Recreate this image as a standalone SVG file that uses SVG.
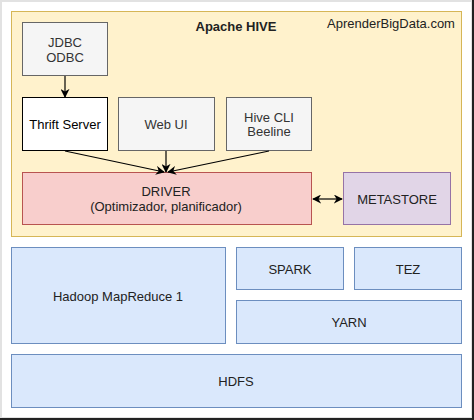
<svg xmlns="http://www.w3.org/2000/svg" width="474" height="420" viewBox="0 0 474 420">
<defs>
<style>
text{font-family:"Liberation Sans",Arial,sans-serif;font-size:13px;fill:#222;text-anchor:middle;dominant-baseline:central}
.grey{fill:#f5f5f5;stroke:#666;stroke-width:1}
.blue{fill:#dae8fc;stroke:#6c8ebf;stroke-width:1}
.gt{fill:#333}
.edge{stroke:#000;stroke-width:1.2;fill:none}
</style>
<marker id="ah" viewBox="0 0 10 10" refX="9" refY="5" markerWidth="9" markerHeight="9" orient="auto-start-reverse" markerUnits="userSpaceOnUse">
<path d="M0,0 L10,5 L0,10 L3,5 z" fill="#000"/>
</marker>
</defs>
<rect x="0" y="0" width="474" height="420" fill="#fff"/>
<rect x="1" y="1" width="471" height="417" fill="none" stroke="#e2e2e2" stroke-width="2"/>
<line x1="473" y1="0" x2="473" y2="420" stroke="#222" stroke-width="2"/>
<line x1="0" y1="419" x2="474" y2="419" stroke="#222" stroke-width="2"/>

<g id="hive">
<rect x="11.5" y="11.5" width="450" height="225" fill="#fff2cc" stroke="#d6b656"/>
<text x="236" y="26" style="font-weight:bold">Apache HIVE</text>
<text x="391" y="23">AprenderBigData.com</text>
</g>
<g id="jdbc">
<rect class="grey" x="22.5" y="22.5" width="85" height="53"/>
<text class="gt" x="65" y="42">JDBC</text>
<text class="gt" x="65" y="57">ODBC</text>
</g>
<g id="thrift">
<rect x="22.5" y="97.5" width="85" height="53" fill="#fff" stroke="#000"/>
<text x="65" y="124" style="fill:#000">Thrift Server</text>
</g>
<g id="webui">
<rect class="grey" x="118.5" y="97.5" width="96" height="53"/>
<text class="gt" x="166" y="124">Web UI</text>
</g>
<g id="hivecli">
<rect class="grey" x="226.5" y="97.5" width="85" height="53"/>
<text class="gt" x="269" y="117">Hive CLI</text>
<text class="gt" x="269" y="131">Beeline</text>
</g>
<g id="driver">
<rect x="22.5" y="172.5" width="289" height="52" fill="#f8cecc" stroke="#b85450"/>
<text x="166" y="191">DRIVER</text>
<text x="166" y="206">(Optimizador, planificador)</text>
</g>
<g id="metastore">
<rect x="343.5" y="172.5" width="107" height="52" fill="#e1d5e7" stroke="#9673a6"/>
<text x="397" y="199">METASTORE</text>
</g>
<g id="hadoop">
<rect class="blue" x="11.5" y="247.5" width="214" height="96"/>
<text x="118" y="296">Hadoop MapReduce 1</text>
</g>
<g id="spark">
<rect class="blue" x="236.5" y="247.5" width="107" height="42"/>
<text x="290" y="269">SPARK</text>
</g>
<g id="tez">
<rect class="blue" x="354.5" y="247.5" width="107" height="42"/>
<text x="408" y="269">TEZ</text>
</g>
<g id="yarn">
<rect class="blue" x="236.5" y="300.5" width="225" height="43"/>
<text x="349" y="322">YARN</text>
</g>
<g id="hdfs">
<rect class="blue" x="11.5" y="354.5" width="450" height="53"/>
<text x="236" y="381">HDFS</text>
</g>
<g id="connectors">
<line class="edge" x1="65" y1="76" x2="65" y2="97" marker-end="url(#ah)"/>
<line class="edge" x1="65" y1="151" x2="164" y2="172" marker-end="url(#ah)"/>
<line class="edge" x1="166" y1="151" x2="166" y2="172" marker-end="url(#ah)"/>
<line class="edge" x1="269" y1="151" x2="168" y2="172" marker-end="url(#ah)"/>
<line class="edge" x1="313" y1="199" x2="342" y2="199" marker-start="url(#ah)" marker-end="url(#ah)"/>
</g>
</svg>
